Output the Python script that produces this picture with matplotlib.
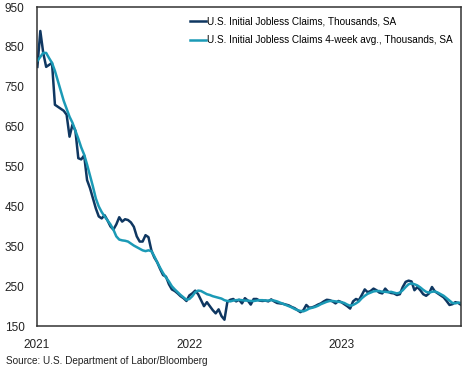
import numpy as np
import pandas as pd
import matplotlib
matplotlib.use("Agg")
import matplotlib.pyplot as plt
import matplotlib.dates as mdates

plt.rcParams['font.family'] = ['Liberation Sans Narrow', 'Liberation Sans', 'DejaVu Sans']

# weekly data, thousands, SA
weeks = pd.date_range("2021-01-02", periods=146, freq="7D")

claims = [
    800, 890, 835, 800, 805, 810, 705, 700, 695, 690,
    680, 625, 655, 640, 571, 568, 578, 516, 496, 470,
    445, 425, 420, 428, 415, 400, 392, 405, 423, 412,
    418, 416, 410, 399, 375, 362, 362, 378, 373, 340,
    322, 310, 293, 278, 274, 255, 242, 238, 232, 225,
    220, 213, 227, 232, 239, 230, 215, 200, 210, 200,
    190, 182, 192, 175, 166, 211, 216, 218, 212, 216,
    207, 220, 214, 204, 218, 218, 214, 213, 214, 212,
    217, 212, 208, 207, 206, 204, 202, 198, 195, 190,
    185, 190, 203, 196, 197, 200, 204, 207, 212, 216,
    215, 212, 207, 213, 210, 205, 200, 194, 212, 218,
    215, 228, 242, 235, 238, 244, 240, 234, 232, 244,
    236, 233, 232, 228, 230, 248, 261, 264, 262, 240,
    248, 240, 230, 226, 232, 248, 237, 232, 227, 222,
    213, 203, 205, 210, 208, 203,
]

claims_4wk = [
    815, 825, 835, 835, 822, 810, 790, 765, 740, 715,
    695, 675, 660, 640, 620, 598, 580, 555, 528, 500,
    470, 450, 436, 425, 415, 405, 392, 375, 367, 365,
    364, 362, 357, 352, 348, 344, 340, 338, 340, 338,
    325, 310, 296, 283, 272, 262, 250, 242, 235, 228,
    222, 216, 218, 225, 235, 239, 238, 234, 230, 228,
    225, 223, 221, 219, 215, 213, 212, 214, 215, 216,
    215, 214, 214, 213, 213, 214, 215, 215, 214, 214,
    215, 214, 212, 209, 206, 203, 200, 197, 193, 190,
    188, 187, 190, 194, 196, 198, 201, 205, 208, 211,
    213, 213, 212, 211, 210, 208, 204, 201, 203, 207,
    212, 220, 226, 231, 234, 237, 238, 238, 236, 236,
    235, 236, 234, 232, 234, 240, 248, 255, 257, 255,
    252, 247, 241, 236, 234, 236, 237, 234, 230, 226,
    220, 214, 208, 207, 209, 208,
]

dark = "#0f3761"
teal = "#1b9ab6"

fig = plt.figure(figsize=(4.74, 3.71), dpi=100)
ax = fig.add_axes([0.078, 0.121, 0.895, 0.860])

ax.plot(weeks, claims, color=dark, lw=1.8,
        label="U.S. Initial Jobless Claims, Thousands, SA")
ax.plot(weeks, claims_4wk, color=teal, lw=1.8,
        label="U.S. Initial Jobless Claims 4-week avg., Thousands, SA")

ax.set_ylim(150, 950)
ax.set_yticks(range(150, 951, 100))
ax.set_xlim(pd.Timestamp("2021-01-01"), weeks[-1])
ax.xaxis.set_major_locator(mdates.YearLocator())
ax.xaxis.set_major_formatter(mdates.DateFormatter("%Y"))
ax.tick_params(length=0, labelsize=8.5, colors="#222222")
ax.tick_params(axis="y", pad=9)
ax.tick_params(axis="x", pad=9)

for s in ax.spines.values():
    s.set_color("#333333")
    s.set_linewidth(1.1)

ax.legend(loc="upper right", frameon=False, fontsize=7.2, handlelength=1.6,
          handletextpad=0.1, labelspacing=0.9, borderaxespad=0.5)

fig.text(0.012, 0.018, "Source: U.S. Department of Labor/Bloomberg",
         fontsize=7.2, color="#222222")

fig.savefig("out.png", dpi=100)
